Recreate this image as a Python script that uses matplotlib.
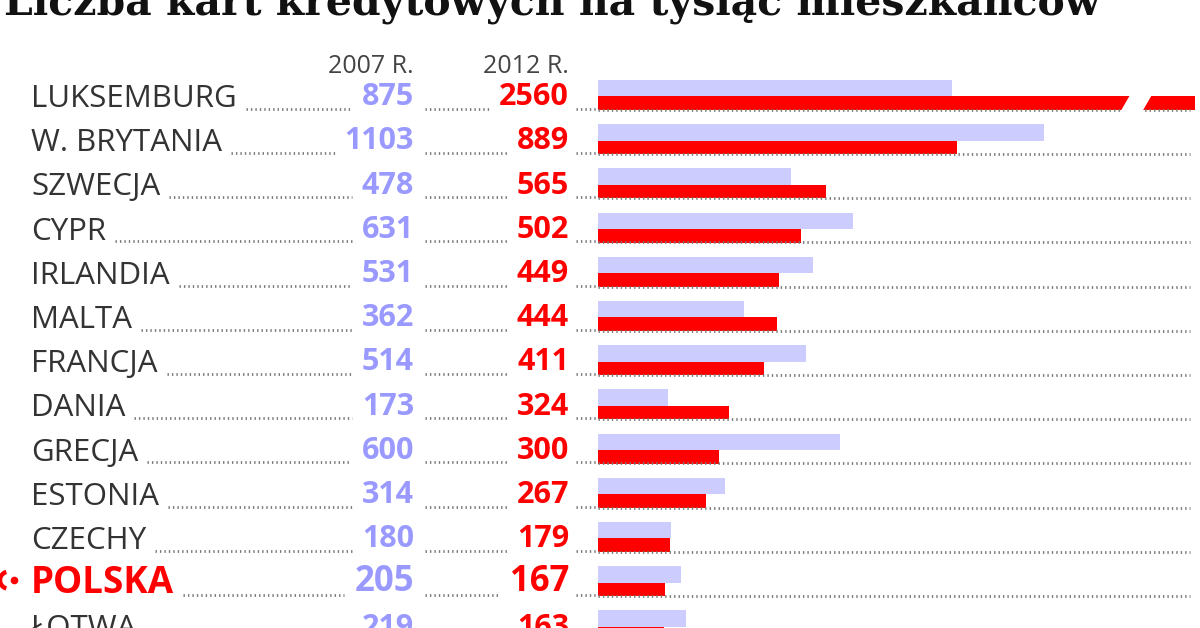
import numpy as np
import matplotlib.pyplot as plt
from matplotlib.patches import Polygon
from matplotlib.transforms import blended_transform_factory

title = "Liczba kart kredytowych na tysiąc mieszkańców"
countries = ["LUKSEMBURG", "W. BRYTANIA", "SZWECJA", "CYPR", "IRLANDIA", "MALTA",
             "FRANCJA", "DANIA", "GRECJA", "ESTONIA", "CZECHY", "POLSKA", "ŁOTWA"]
cards_2007 = [875, 1103, 478, 631, 531, 362, 514, 173, 600, 314, 180, 205, 219]
cards_2012 = [2560, 889, 565, 502, 449, 444, 411, 324, 300, 267, 179, 167, 163]
headers = ["2007 R.", "2012 R."]
highlight = "POLSKA"

BLUE_BAR = "#ccccff"
BLUE_TXT = "#9999ff"
RED = "#ff0000"
DARK = "#333333"
DOTS = "#7a7a7a"

plt.rcParams["font.family"] = ["Open Sans", "DejaVu Sans"]

W, H = 1200, 628
fig = plt.figure(figsize=(12, 6.28), dpi=100)

# layout in pixels
top_px, pitch_px = 96, 44.2
x0_px, x1_px = 598, 1195
px_per_card = 0.404
col_2007, col_2012 = 414, 569
label_x = 31
dot_style = dict(color=DOTS, lw=2.0, ls=(0, (0.5, 1.1)), dash_capstyle="butt")

ax = fig.add_axes([x0_px / W, 0, (x1_px - x0_px) / W, 1])
ax.set_xlim(0, (x1_px - x0_px) / px_per_card)
ax.set_ylim((H - top_px) / pitch_px, -top_px / pitch_px)
ax.axis("off")

rows = np.arange(len(countries))
ax.barh(rows - 0.362, cards_2007, height=0.373, align="edge", color=BLUE_BAR, zorder=2)
ax.barh(rows + 0.011, cards_2012, height=0.306, align="edge", color=RED, zorder=2)

tr = blended_transform_factory(fig.transFigure, ax.transData)

fig.text(0.003, 1 - 15 / H, title, fontsize=29.5, fontweight="bold",
         family="DejaVu Serif", color="#111111", va="baseline", ha="left")
for x, h in zip([col_2007, col_2012], headers):
    ax.text(x / W, -0.52, h, transform=tr, ha="right", va="baseline",
            fontsize=18, color="#444444", clip_on=False)

pairs = []
for i, (name, v7, v12) in enumerate(zip(countries, cards_2007, cards_2012)):
    hot = name == highlight
    lab = ax.text(label_x / W, i + 0.25, name, transform=tr, ha="left", va="baseline",
                  fontsize=26.5 if hot else 22.5, fontweight="bold" if hot else "normal",
                  color=RED if hot else DARK, clip_on=False)
    t7 = ax.text(col_2007 / W, i + 0.21, str(v7), transform=tr, ha="right", va="baseline",
                 fontsize=25 if hot else 22, fontweight="bold", color=BLUE_TXT, clip_on=False)
    t12 = ax.text(col_2012 / W, i + 0.21, str(v12), transform=tr, ha="right", va="baseline",
                  fontsize=25 if hot else 22, fontweight="bold", color=RED, clip_on=False)
    pairs.append((lab, t7, t12))

fig.canvas.draw()
for i, (lab, t7, t12) in enumerate(pairs):
    e_lab = lab.get_window_extent()
    e7 = t7.get_window_extent()
    e12 = t12.get_window_extent()
    segs = [(e_lab.x1 + 9, e7.x0 - 10), (e7.x1 + 11, e12.x0 - 10), (e12.x1 + 7, x0_px)]
    for a, b in segs:
        ax.plot([a / W, b / W], [i + 0.29, i + 0.29], transform=tr,
                clip_on=False, zorder=1, **dot_style)
    ax.plot([0, (1190 - x0_px) / px_per_card], [i + 0.31, i + 0.31], zorder=3, **dot_style)

# axis break on the longest bar
brk, gap, slant = 1349, 50, 60
ax.add_patch(Polygon([(brk, -0.5), (brk + gap, -0.5), (brk + gap - slant, 0.45),
                      (brk - slant, 0.45)], closed=True, color="white", zorder=4))

# marker in front of the highlighted row
hi = countries.index(highlight)
cy = 1 - (top_px + pitch_px * hi - 2) / H
th = np.radians(np.linspace(105, 255, 40))
r = 8.5
fig.add_artist(plt.Line2D((8.5 + r * np.cos(th)) / W, cy + r * np.sin(th) / H,
                          color=RED, lw=3.2, solid_capstyle="butt"))
fig.add_artist(plt.Line2D([14 / W], [cy], marker="o", ms=4.5, color=RED))

fig.savefig("out.png", dpi=100)
